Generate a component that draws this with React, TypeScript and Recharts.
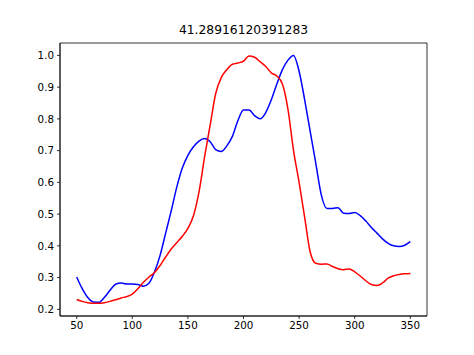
import { LineChart, Line, XAxis, YAxis, ReferenceArea } from "recharts";

const xValues = [
  50, 55, 60, 65, 70, 75, 80, 85, 90, 95, 100, 105, 110, 115, 120, 125, 130,
  135, 140, 145, 150, 155, 160, 165, 170, 175, 180, 185, 190, 195, 200, 205,
  210, 215, 220, 225, 230, 235, 240, 245, 250, 255, 260, 265, 270, 275, 280,
  285, 290, 295, 300, 305, 310, 315, 320, 325, 330, 335, 340, 345, 350,
];

const blueValues = [
  0.302, 0.265, 0.237, 0.223, 0.222, 0.238, 0.26, 0.279, 0.283, 0.28, 0.28,
  0.278, 0.273, 0.282, 0.318, 0.37, 0.44, 0.51, 0.585, 0.645, 0.685, 0.712,
  0.73, 0.738, 0.728, 0.703, 0.697, 0.715, 0.745, 0.795, 0.828, 0.828, 0.81,
  0.8, 0.82, 0.86, 0.91, 0.955, 0.985, 1.0, 0.95, 0.86, 0.76, 0.66, 0.56,
  0.518, 0.518, 0.52, 0.503, 0.502, 0.505, 0.495, 0.478, 0.458, 0.44, 0.422,
  0.408, 0.4, 0.398, 0.402, 0.413,
];

const redValues = [
  0.231, 0.225, 0.221, 0.219, 0.219, 0.221, 0.225, 0.23, 0.236, 0.24, 0.248,
  0.265, 0.285, 0.302, 0.316, 0.338, 0.365, 0.39, 0.41, 0.43, 0.455, 0.495,
  0.57, 0.68, 0.78, 0.88, 0.93, 0.955, 0.972, 0.976, 0.982, 0.998, 0.994,
  0.98, 0.965, 0.945, 0.935, 0.91, 0.83, 0.7, 0.6, 0.49, 0.38, 0.345, 0.342,
  0.343, 0.335, 0.328, 0.325, 0.327, 0.318, 0.305, 0.29, 0.278, 0.275, 0.283,
  0.298, 0.306, 0.31, 0.312, 0.313,
];

const xTicks = [50, 100, 150, 200, 250, 300, 350];
const yTicks = [0.2, 0.3, 0.4, 0.5, 0.6, 0.7, 0.8, 0.9, 1.0];
const xDomain = [35, 365];
const yDomain = [0.179, 1.039];
const title = "41.28916120391283";

const data = xValues.map((x, i) => ({
  x,
  blue: blueValues[i],
  red: redValues[i],
}));

const font = "'DejaVu Sans', sans-serif";
const tickStyle = { fontSize: 10.3, fill: "#000", fontFamily: font };

export default function App() {
  return (
    <div style={{ position: "absolute", left: 0, top: 0, width: 474, height: 355, background: "#fff" }}>
      <div
        style={{
          position: "absolute",
          left: 60,
          width: 367,
          top: 23,
          textAlign: "center",
          fontFamily: font,
          fontSize: 12.3,
          color: "#000",
        }}
      >
        {title}
      </div>
      <LineChart
        width={474}
        height={355}
        data={data}
        margin={{ top: 43, right: 47, bottom: 0, left: 0 }}
      >
        <XAxis
          dataKey="x"
          type="number"
          domain={xDomain}
          ticks={xTicks}
          tick={tickStyle}
          tickSize={3}
          tickMargin={3}
          height={39}
          stroke="#000"
          strokeWidth={0.8}
          interval={0}
        />
        <YAxis
          type="number"
          domain={yDomain}
          ticks={yTicks}
          tick={tickStyle}
          tickFormatter={(v) => v.toFixed(1)}
          tickSize={3}
          tickMargin={3}
          width={60}
          stroke="#000"
          strokeWidth={0.8}
          interval={0}
          allowDataOverflow
        />
        <ReferenceArea
          x1={xDomain[0]}
          x2={xDomain[1]}
          y1={yDomain[0]}
          y2={yDomain[1]}
          fill="none"
          fillOpacity={0}
          stroke="#000"
          strokeWidth={0.8}
          strokeOpacity={1}
        />
        <Line
          type="monotone"
          dataKey="blue"
          stroke="#0000ff"
          strokeWidth={1.5}
          dot={false}
          isAnimationActive={false}
        />
        <Line
          type="monotone"
          dataKey="red"
          stroke="#ff0000"
          strokeWidth={1.5}
          dot={false}
          isAnimationActive={false}
        />
      </LineChart>
    </div>
  );
}
